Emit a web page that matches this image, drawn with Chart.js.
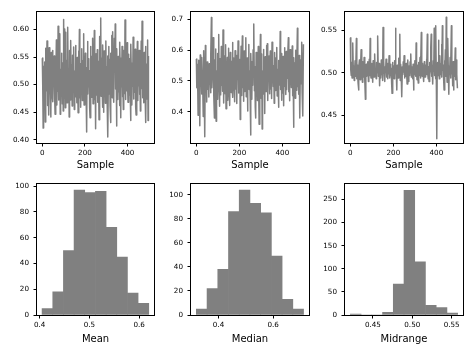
<!DOCTYPE html>
<html><head><meta charset="utf-8">
<script src="https://cdn.jsdelivr.net/npm/chart.js@4/dist/chart.umd.min.js"></script>
<style>
html,body{margin:0;padding:0;background:#fff;}
#wrap{position:relative;width:474px;height:355px;overflow:hidden;background:#fff;}
canvas{position:absolute;}
</style></head>
<body><div id="wrap"></div>
<script>
// ---------- data ----------
const sampleStep = 2; // every 2nd sample index shown
const meanSeries = [
0.548,0.497,0.421,0.533,0.476,0.541,0.512,0.432,0.566,0.489,
0.523,0.579,0.462,0.545,0.505,0.445,0.567,0.494,0.531,0.478,
0.441,0.558,0.516,0.483,0.562,0.469,0.527,0.498,0.552,0.474,
0.446,0.535,0.507,0.581,0.463,0.519,0.488,0.606,0.472,0.541,
0.499,0.592,0.446,0.528,0.481,0.557,0.512,0.465,0.539,0.452,
0.618,0.476,0.601,0.523,0.458,0.595,0.491,0.544,0.467,0.586,
0.604,0.483,0.529,0.441,0.562,0.508,0.472,0.580,0.497,0.536,
0.461,0.553,0.515,0.486,0.568,0.455,0.524,0.493,0.571,0.478,
0.532,0.467,0.549,0.503,0.449,0.561,0.487,0.600,0.476,0.538,
0.459,0.526,0.498,0.565,0.471,0.543,0.509,0.592,0.463,0.534,
0.488,0.557,0.519,0.469,0.414,0.531,0.578,0.483,0.547,0.496,
0.525,0.458,0.440,0.569,0.502,0.477,0.551,0.516,0.584,0.465,
0.538,0.491,0.598,0.473,0.529,0.420,0.556,0.507,0.481,0.563,
0.468,0.542,0.513,0.436,0.587,0.494,0.528,0.621,0.479,0.548,
0.503,0.459,0.572,0.521,0.450,0.561,0.487,0.539,0.466,0.579,
0.497,0.533,0.474,0.552,0.405,0.518,0.569,0.483,0.546,0.461,
0.431,0.557,0.512,0.589,0.476,0.596,0.501,0.543,0.468,0.584,
0.526,0.610,0.492,0.539,0.425,0.565,0.508,0.473,0.551,0.487,
0.534,0.462,0.577,0.515,0.440,0.548,0.496,0.569,0.478,0.531,
0.455,0.562,0.509,0.484,0.617,0.473,0.541,0.524,0.489,0.576,
0.502,0.468,0.555,0.518,0.481,0.547,0.494,0.435,0.573,0.512,
0.463,0.539,0.497,0.586,0.474,0.529,0.551,0.486,0.564,0.459,
0.445,0.543,0.516,0.578,0.471,0.535,0.498,0.562,0.482,0.550,
0.452,0.527,0.579,0.493,0.615,0.476,0.546,0.509,0.467,0.558,
0.521,0.488,0.569,0.431,0.537,0.503,0.474,0.581,0.435,0.552];
const medianSeries = [
0.571,0.478,0.553,0.502,0.389,0.567,0.446,0.531,0.355,0.584,
0.497,0.541,0.458,0.576,0.512,0.469,0.385,0.598,0.523,0.451,
0.320,0.615,0.487,0.539,0.432,0.561,0.505,0.473,0.529,0.448,
0.556,0.491,0.534,0.462,0.587,0.705,0.478,0.521,0.594,0.640,
0.514,0.452,0.380,0.568,0.497,0.603,0.370,0.533,0.476,0.589,
0.441,0.547,0.650,0.493,0.418,0.572,0.509,0.455,0.611,0.486,
0.538,0.467,0.665,0.502,0.429,0.581,0.526,0.459,0.617,0.410,
0.553,0.494,0.576,0.438,0.529,0.606,0.471,0.545,0.421,0.592,
0.508,0.463,0.563,0.485,0.624,0.447,0.537,0.574,0.492,0.433,
0.598,0.516,0.474,0.551,0.427,0.583,0.505,0.629,0.461,0.542,
0.488,0.569,0.375,0.521,0.612,0.453,0.536,0.645,0.479,0.558,
0.434,0.597,0.512,0.466,0.585,0.640,0.449,0.527,0.574,0.403,
0.546,0.493,0.618,0.472,0.533,0.458,0.325,0.589,0.507,0.441,
0.563,0.486,0.601,0.524,0.684,0.468,0.547,0.415,0.380,0.592,
0.498,0.571,0.437,0.535,0.611,0.462,0.360,0.558,0.484,0.650,
0.519,0.443,0.587,0.345,0.531,0.476,0.602,0.458,0.543,0.395,
0.578,0.502,0.466,0.615,0.489,0.620,0.437,0.552,0.511,0.581,
0.459,0.536,0.597,0.474,0.525,0.443,0.625,0.508,0.563,0.482,
0.549,0.428,0.592,0.517,0.469,0.574,0.496,0.608,0.451,0.538,
0.503,0.415,0.566,0.487,0.529,0.660,0.472,0.553,0.438,0.589,
0.514,0.461,0.579,0.420,0.542,0.607,0.483,0.531,0.456,0.595,
0.472,0.548,0.509,0.583,0.640,0.465,0.527,0.436,0.601,0.494,
0.561,0.479,0.537,0.613,0.452,0.526,0.350,0.575,0.491,0.558,
0.444,0.599,0.515,0.470,0.546,0.670,0.482,0.534,0.457,0.582,
0.506,0.380,0.568,0.491,0.539,0.625,0.463,0.590,0.387,0.619];
const midrangeSeries = [
0.541,0.503,0.497,0.512,0.494,0.526,0.535,0.499,0.508,0.491,
0.505,0.514,0.496,0.502,0.540,0.493,0.509,0.498,0.488,0.480,
0.506,0.515,0.499,0.492,0.511,0.527,0.497,0.504,0.489,0.513,
0.501,0.495,0.518,0.507,0.492,0.469,0.503,0.510,0.496,0.508,
0.499,0.513,0.490,0.505,0.516,0.497,0.540,0.502,0.494,0.511,
0.506,0.498,0.489,0.514,0.501,0.495,0.509,0.522,0.497,0.504,
0.493,0.512,0.500,0.507,0.543,0.496,0.503,0.511,0.485,0.502,
0.509,0.494,0.515,0.498,0.506,0.491,0.553,0.500,0.513,0.496,
0.490,0.507,0.502,0.516,0.495,0.504,0.511,0.493,0.508,0.499,
0.520,0.503,0.494,0.510,0.497,0.505,0.488,0.476,0.512,0.501,
0.496,0.508,0.493,0.514,0.500,0.552,0.505,0.497,0.480,0.509,
0.502,0.494,0.517,0.499,0.506,0.545,0.491,0.510,0.503,0.496,
0.472,0.507,0.498,0.513,0.501,0.520,0.494,0.509,0.496,0.505,
0.511,0.499,0.487,0.504,0.515,0.490,0.502,0.508,0.497,0.513,
0.500,0.522,0.495,0.507,0.503,0.493,0.510,0.480,0.506,0.498,
0.514,0.501,0.496,0.535,0.504,0.492,0.509,0.500,0.488,0.512,
0.497,0.505,0.518,0.494,0.508,0.547,0.502,0.496,0.511,0.499,
0.506,0.490,0.513,0.501,0.495,0.509,0.498,0.516,0.503,0.545,
0.500,0.493,0.507,0.490,0.512,0.498,0.504,0.530,0.545,0.496,
0.509,0.501,0.487,0.514,0.502,0.552,0.497,0.508,0.493,0.555,
0.489,0.423,0.505,0.512,0.497,0.538,0.501,0.493,0.520,0.506,
0.498,0.511,0.533,0.495,0.555,0.503,0.509,0.492,0.480,0.514,
0.500,0.527,0.496,0.565,0.504,0.489,0.512,0.540,0.497,0.475,
0.508,0.501,0.518,0.494,0.510,0.555,0.499,0.506,0.485,0.513,
0.480,0.503,0.496,0.510,0.529,0.492,0.507,0.515,0.498,0.482];

// histogram bin edges and counts
const meanEdges   = [0.4047,0.4262,0.4477,0.4691,0.4906,0.5121,0.5336,0.5551,0.5765,0.5980,0.6195];
const meanCounts  = [5,18,50,97,95,96,68,45,17,9];
const medianEdges = [0.3185,0.3578,0.3970,0.4363,0.4755,0.5148,0.5540,0.5933,0.6325,0.6718,0.7110];
const medianCounts= [5,22,38,86,104,93,85,49,13,5];
const midEdges    = [0.4214,0.4350,0.4486,0.4623,0.4759,0.4895,0.5031,0.5167,0.5304,0.5440,0.5576];
const midCounts   = [2,0,0,6,67,270,115,21,16,4];

// tick labels
const sampleTicks    = [0,200,400];
const meanSeriesTicks= [0.40,0.45,0.50,0.55,0.60];
const medSeriesTicks = [0.4,0.5,0.6,0.7];
const midSeriesTicks = [0.45,0.50,0.55];
const meanHistX  = [0.4,0.5,0.6];
const medHistX   = [0.4,0.6];
const midHistX   = [0.45,0.50,0.55];
const countTicks100 = [0,20,40,60,80,100];
const countTicks250 = [0,50,100,150,200,250];
const xTitles = ['Sample','Sample','Sample','Mean','Median','Midrange'];

// ---------- rendering ----------
const FONT = 'DejaVu Sans';
const GRAY = '#808080';
const YW = 37, PT = 8, PR = 10, XH = 40;

const framePlugin = {
  id: 'frame',
  afterDraw(chart) {
    const {ctx, chartArea: a} = chart;
    ctx.save();
    ctx.strokeStyle = '#000';
    ctx.lineWidth = 1;
    ctx.strokeRect(Math.round(a.left) - 0.5, Math.round(a.top) - 0.5,
                   Math.round(a.right - a.left) + 1, Math.round(a.bottom - a.top) + 1);
    ctx.restore();
  }
};

function makeCanvas(frameLeft, frameTop, frameW, frameH) {
  const c = document.createElement('canvas');
  const w = YW + frameW + PR, h = PT + frameH + XH;
  c.width = w; c.height = h;
  c.style.left = (frameLeft - YW) + 'px';
  c.style.top = (frameTop - PT) + 'px';
  c.style.width = w + 'px'; c.style.height = h + 'px';
  document.getElementById('wrap').appendChild(c);
  return c;
}

function axis(min, max, ticks, fmt, isX, title, titlePad) {
  const o = {
    type: 'linear', min, max, offset: false,
    afterBuildTicks: s => { s.ticks = ticks.map(v => ({value: v})); },
    afterFit: s => { if (isX) s.height = XH; else s.width = YW; },
    grid: {display: true, offset: false, drawOnChartArea: false, drawTicks: true, tickLength: 3.5,
           color: '#000', lineWidth: 1},
    border: {display: false},
    ticks: {font: {family: FONT, size: 7.2}, color: '#000', padding: isX ? 2 : 4.5,
            maxRotation: 0, autoSkip: false, callback: fmt}
  };
  if (title) o.title = {display: true, text: title, font: {family: FONT, size: 10},
                        color: '#000', padding: {top: 0, bottom: titlePad}};
  return o;
}

function lineChart(pos, values, yMin, yMax, yTicks, yDec, title) {
  const c = makeCanvas(...pos);
  new Chart(c, {
    type: 'line',
    data: {datasets: [{data: values.map((v, i) => ({x: i * sampleStep, y: v})),
      borderColor: GRAY, borderWidth: 1.5, pointRadius: 0, tension: 0,
      borderJoinStyle: 'round', fill: false}]},
    options: {responsive: false, animation: false, devicePixelRatio: 1,
      layout: {padding: {top: PT, right: PR, left: 0, bottom: 0}},
      plugins: {legend: {display: false}, tooltip: {enabled: false}},
      scales: {
        x: axis(-24.95, 523.95, sampleTicks, v => String(v), true, title, 11.5),
        y: axis(yMin, yMax, yTicks, v => v.toFixed(yDec), false)
      }},
    plugins: [framePlugin]
  });
}

function histChart(pos, edges, counts, xMin, xMax, xTicks, xDec, yMax, yTicks, title) {
  const c = makeCanvas(...pos);
  const pts = counts.map((n, i) => ({x: (edges[i] + edges[i + 1]) / 2, y: n}));
  new Chart(c, {
    type: 'bar',
    data: {datasets: [{data: pts, backgroundColor: GRAY, borderWidth: 0,
      barPercentage: 1, categoryPercentage: 1}]},
    options: {responsive: false, animation: false, devicePixelRatio: 1,
      layout: {padding: {top: PT, right: PR, left: 0, bottom: 0}},
      plugins: {legend: {display: false}, tooltip: {enabled: false}},
      scales: {
        x: axis(xMin, xMax, xTicks, v => v.toFixed(xDec), true, title, 10),
        y: axis(0, yMax, yTicks, v => String(v), false)
      }},
    plugins: [framePlugin]
  });
}

lineChart([37, 11, 117, 132], meanSeries, 0.394, 0.632, meanSeriesTicks, 2, xTitles[0]);
lineChart([191, 11, 118, 132], medianSeries, 0.2994, 0.7235, medSeriesTicks, 1, xTitles[1]);
lineChart([345, 11, 118, 132], midrangeSeries, 0.418, 0.5713, midSeriesTicks, 2, xTitles[2]);
histChart([37, 183, 117, 132], meanEdges, meanCounts, 0.3945, 0.630, meanHistX, 1, 101.85, countTicks100, xTitles[3]);
histChart([191, 183, 118, 132], medianEdges, medianCounts, 0.299, 0.731, medHistX, 1, 109.2, countTicks100, xTitles[4]);
histChart([345, 183, 118, 132], midEdges, midCounts, 0.4146, 0.5644, midHistX, 2, 284, countTicks250, xTitles[5]);
</script></body></html>
